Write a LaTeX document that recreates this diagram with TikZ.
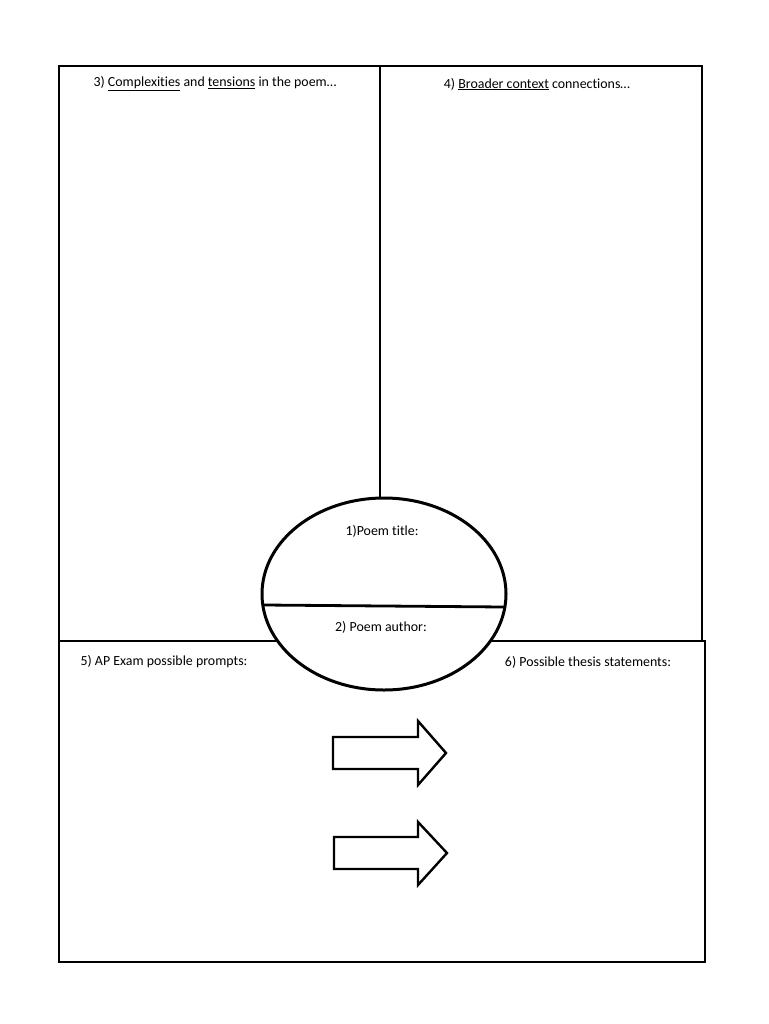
\documentclass[tikz,border=0pt]{standalone}
\usepackage{fontspec}
\setmainfont[Ligatures=NoCommon]{Carlito}
\begin{document}
\begin{tikzpicture}[x=1pt,y=-1pt,
  thick line/.style={line width=2.8pt},
  thin line/.style={line width=1.5pt},
  lbl/.style={font=\fontsize{13.9}{16}\selectfont, inner sep=0pt, anchor=center},
  arrowshape/.style={line width=2.4pt, fill=white, line join=miter}]
\useasboundingbox (0,0) rectangle (768,1024);
\fill[white] (0,0) rectangle (768,1024);
% boxes
\draw[thick line] (59,66) rectangle (702,641);
\draw[thick line] (59,641) rectangle (705,962);
\draw[thin line] (380,66) -- (380,510);
% ellipse
\draw[line width=3pt, fill=white] (384,594) ellipse [x radius=122, y radius=96];
\draw[thick line] (264,605) -- (504,607);
% labels
\node[lbl] (t3) at (215,84) {3) \underline{Complexities} and \underline{tensions} in the poem…};
\node[lbl] (t4) at (537,84) {4) \underline{Broader context} connections…};
\node[lbl] (t1) at (382,531) {1)Poem title:};
\node[lbl] (t2) at (381,627) {2) Poem author:};
\node[lbl] (t5) at (164,662) {5) AP Exam possible prompts:};
\node[lbl] (t6) at (588,662) {6) Possible thesis statements:};
% arrows
\draw[arrowshape] (333,737) -- (418,737) -- (418,721) -- (446,753) -- (418,785) -- (418,769) -- (333,769) -- cycle;
\draw[arrowshape] (334,837) -- (418,837) -- (418,822) -- (447,853) -- (418,885) -- (418,869) -- (334,869) -- cycle;
\end{tikzpicture}
\end{document}
